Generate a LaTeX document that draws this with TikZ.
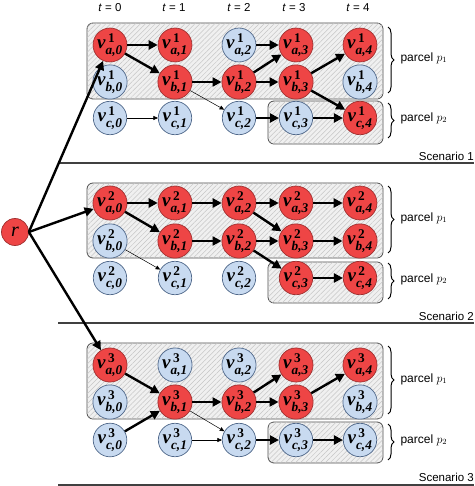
\documentclass[tikz,border=0pt]{standalone}
\usepackage[no-math]{fontspec}
\setmainfont{Liberation Sans}
\newfontfamily\vfont{Liberation Serif}
\usepackage{amsmath}
\usetikzlibrary{arrows.meta,patterns.meta,decorations.pathreplacing}
\definecolor{rfill}{HTML}{EE4545}
\definecolor{rdraw}{HTML}{A03030}
\definecolor{bfill}{HTML}{C8DAF0}
\definecolor{bdraw}{HTML}{50688A}
\newcommand\vlab[3]{$\text{\vfont\bfseries\itshape v}^{\,\text{\vfont\bfseries #1}}_{\text{\vfont\bfseries\itshape #2,#3}}$}
\newcommand\V[6]{\node[#1] (s#2#3#4) at (#5,#6) {\vlab{#2}{#3}{#4}};}
\begin{document}
\begin{tikzpicture}[x=1pt,y=-1pt,
  nd/.style={circle,line width=0.7pt,minimum size=28pt,inner sep=0pt,font=\fontsize{19}{19}\selectfont},
  rn/.style={nd,draw=rdraw,fill=rfill},
  bn/.style={nd,draw=bdraw,fill=bfill},
  ta/.style={line width=2.4pt,-{Triangle[length=9pt,width=9pt]}},
  tn/.style={line width=0.5pt,-{Triangle[length=4.5pt,width=4pt]}},
  box/.style={draw=gray!60!black,line width=0.8pt,rounded corners=6pt,fill=gray!12,
    postaction={pattern={Lines[angle=45,distance=3.5pt,line width=0.5pt]},pattern color=gray!45}},
  brc/.style={decorate,decoration={brace,amplitude=6pt},line width=1pt},
  lbl/.style={anchor=west,font=\fontsize{12}{12}\selectfont},
  scn/.style={anchor=south east,font=\fontsize{11.5}{12}\selectfont,inner sep=0pt},
  sep/.style={line width=1.3pt,draw=black!75},
  tl/.style={font=\fontsize{11.5}{12}\selectfont}]
\useasboundingbox (0,0) rectangle (474,486);
% time labels
\node[tl] (t0) at (110,8) {\textit{t} = 0};
\node[tl] (t1) at (174,8) {\textit{t} = 1};
\node[tl] (t2) at (239,8) {\textit{t} = 2};
\node[tl] (t3) at (294,8) {\textit{t} = 3};
\node[tl] (t4) at (358,8) {\textit{t} = 4};
% boxes
\draw[box] (87,23) rectangle (383,99);
\draw[box] (268,101) rectangle (383,144);
\draw[box] (87,183) rectangle (383,258);
\draw[box] (268,262) rectangle (383,303);
\draw[box] (87,343) rectangle (383,419);
\draw[box] (268,422) rectangle (383,463);
% braces and labels
\draw[brc] (388,27) -- (388,93);
\node[lbl] (p11) at (397,58) {parcel $p_1$};
\draw[brc] (388,103) -- (388,138);
\node[lbl] (p21) at (397,118) {parcel $p_2$};
\draw[brc] (388,186) -- (388,253);
\node[lbl] (p12) at (397,218) {parcel $p_1$};
\draw[brc] (388,263) -- (388,299);
\node[lbl] (p22) at (397,279) {parcel $p_2$};
\draw[brc] (388,346) -- (388,414);
\node[lbl] (p13) at (397,379) {parcel $p_1$};
\draw[brc] (388,424) -- (388,460);
\node[lbl] (p23) at (397,440) {parcel $p_2$};
% separators
\coordinate (l1a) at (58,163); \coordinate (l1b) at (474,163);
\coordinate (l2a) at (58,323); \coordinate (l2b) at (474,323);
\coordinate (l3a) at (58,485); \coordinate (l3b) at (474,485);
\draw[sep] (l1a) -- (l1b);
\draw[sep] (l2a) -- (l2b);
\draw[sep] (l3a) -- (l3b);
\node[scn] (sc1) at (474,161) {Scenario 1};
\node[scn] (sc2) at (474,321) {Scenario 2};
\node[scn] (sc3) at (474,482) {Scenario 3};
% root
\node[circle,draw=rdraw,fill=rfill,line width=0.7pt,minimum size=27pt,inner sep=0pt,font=\fontsize{20}{20}\selectfont] (r) at (15,232) {\vfont\itshape r};
% scenario 1 nodes
\V{rn}{1}{a}{0}{110}{45} \V{rn}{1}{a}{1}{175}{45} \V{bn}{1}{a}{2}{239}{45} \V{rn}{1}{a}{3}{296}{45} \V{rn}{1}{a}{4}{360}{45}
\V{bn}{1}{b}{0}{110}{82} \V{rn}{1}{b}{1}{175}{82} \V{rn}{1}{b}{2}{239}{82} \V{rn}{1}{b}{3}{296}{82} \V{bn}{1}{b}{4}{360}{82}
\V{bn}{1}{c}{0}{110}{118} \V{bn}{1}{c}{1}{175}{118} \V{bn}{1}{c}{2}{239}{118} \V{bn}{1}{c}{3}{296}{118} \V{rn}{1}{c}{4}{360}{118}
% scenario 2 nodes
\V{rn}{2}{a}{0}{110}{203} \V{rn}{2}{a}{1}{175}{203} \V{rn}{2}{a}{2}{239}{203} \V{rn}{2}{a}{3}{296}{203} \V{rn}{2}{a}{4}{360}{203}
\V{bn}{2}{b}{0}{110}{241} \V{rn}{2}{b}{1}{175}{241} \V{rn}{2}{b}{2}{239}{241} \V{rn}{2}{b}{3}{296}{241} \V{rn}{2}{b}{4}{360}{241}
\V{bn}{2}{c}{0}{110}{278} \V{bn}{2}{c}{1}{175}{278} \V{bn}{2}{c}{2}{239}{278} \V{rn}{2}{c}{3}{296}{278} \V{rn}{2}{c}{4}{360}{278}
% scenario 3 nodes
\V{rn}{3}{a}{0}{110}{365} \V{bn}{3}{a}{1}{175}{365} \V{bn}{3}{a}{2}{239}{365} \V{rn}{3}{a}{3}{296}{365} \V{rn}{3}{a}{4}{360}{365}
\V{bn}{3}{b}{0}{110}{402} \V{rn}{3}{b}{1}{175}{402} \V{rn}{3}{b}{2}{239}{402} \V{rn}{3}{b}{3}{296}{402} \V{bn}{3}{b}{4}{360}{402}
\V{bn}{3}{c}{0}{110}{440} \V{bn}{3}{c}{1}{175}{440} \V{bn}{3}{c}{2}{239}{440} \V{bn}{3}{c}{3}{296}{440} \V{bn}{3}{c}{4}{360}{440}
% root edges
\draw[ta] (r.east) -- (s1a0);
\draw[ta] (r.east) -- (s2a0);
\draw[ta] (r.east) -- (s3a0);
% scenario 1 edges
\draw[ta] (s1a0) -- (s1a1);
\draw[ta] (s1a0) -- (s1b1);
\draw[ta] (s1b1) -- (s1b2);
\draw[tn] (s1b1) -- (s1c2);
\draw[tn] (s1c0) -- (s1c1);
\draw[ta] (s1a2) -- (s1a3);
\draw[ta] (s1b2) -- (s1a3);
\draw[ta] (s1b2) -- (s1b3);
\draw[ta] (s1b3) -- (s1a4);
\draw[ta] (s1b3) -- (s1c4);
\draw[ta] (s1c2) -- (s1c3);
\draw[ta] (s1c3) -- (s1c4);
% scenario 2 edges
\draw[ta] (s2a0) -- (s2a1);
\draw[ta] (s2a0) -- (s2b1);
\draw[tn] (s2b0) -- (s2c1);
\draw[ta] (s2a1) -- (s2a2);
\draw[ta] (s2b1) -- (s2b2);
\draw[ta] (s2a2) -- (s2a3);
\draw[ta] (s2a2) -- (s2b3);
\draw[ta] (s2b2) -- (s2b3);
\draw[ta] (s2b2) -- (s2c3);
\draw[ta] (s2a3) -- (s2a4);
\draw[ta] (s2b3) -- (s2b4);
\draw[ta] (s2c3) -- (s2c4);
% scenario 3 edges
\draw[ta] (s3a0) -- (s3b1);
\draw[ta] (s3c0) -- (s3b1);
\draw[ta] (s3b1) -- (s3b2);
\draw[tn] (s3b1) -- (s3c2);
\draw[tn] (s3c1) -- (s3c2);
\draw[ta] (s3b2) -- (s3a3);
\draw[ta] (s3b2) -- (s3b3);
\draw[ta] (s3b3) -- (s3a4);
\draw[ta] (s3c2) -- (s3c3);
\draw[ta] (s3c3) -- (s3c4);
\end{tikzpicture}
\end{document}
